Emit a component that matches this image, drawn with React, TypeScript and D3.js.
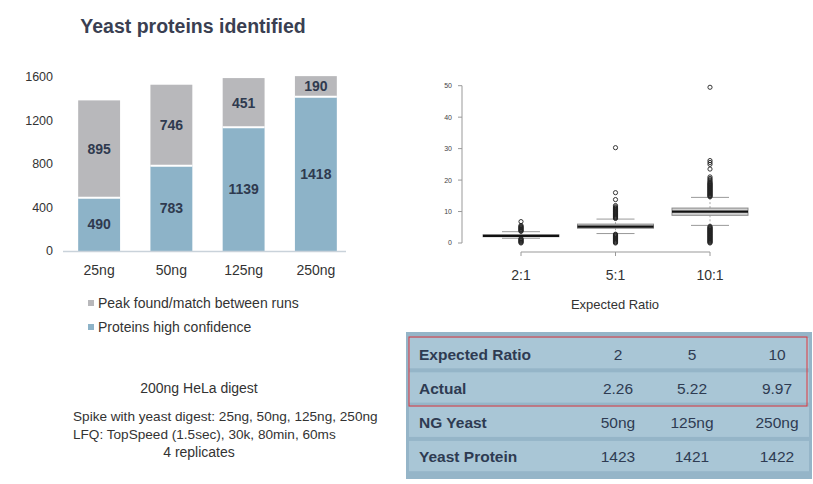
import React from "react";
import * as d3 from "d3";

// ── Bar chart data ─────────────────────────────────────────────
const amounts = ["25ng", "50ng", "125ng", "250ng"];
const highConfidence = [490, 783, 1139, 1418];
const matchBetweenRuns = [895, 746, 451, 190];
const barTicks = [0, 400, 800, 1200, 1600];

// ── Box plot data ──────────────────────────────────────────────
const ratios = ["2:1", "5:1", "10:1"];
const boxQ1 = [2.0, 4.7, 8.8];
const boxMedian = [2.26, 5.22, 9.97];
const boxQ3 = [2.6, 6.0, 11.1];
const whiskerLo = [1.5, 3.0, 5.6];
const whiskerHi = [3.6, 7.6, 14.5];
const outliers2 = [
  0.0, 0.2, 0.4, 0.6, 0.8, 1.0, 1.2, 1.4, 3.7, 3.9, 4.1, 4.3, 4.5, 4.7,
  4.9, 5.1, 5.3, 5.6, 6.8,
];
const outliers5 = [
  0.0, 0.2, 0.4, 0.6, 0.8, 1.0, 1.2, 1.4, 1.6, 1.8, 2.0, 2.2, 2.4, 2.6,
  2.8, 7.8, 8.0, 8.2, 8.4, 8.6, 8.8, 9.0, 9.2, 9.4, 9.6, 9.8, 10.0, 10.2,
  10.4, 10.6, 10.8, 11.0, 11.2, 11.5, 11.9, 13.8, 16.0, 30.3,
];
const outliers10 = [
  0.0, 0.2, 0.4, 0.6, 0.8, 1.0, 1.2, 1.4, 1.6, 1.8, 2.0, 2.2, 2.4, 2.6,
  2.8, 3.0, 3.2, 3.4, 3.6, 3.8, 4.0, 4.2, 4.4, 4.6, 4.8, 5.0, 5.3, 14.7,
  14.9, 15.1, 15.3, 15.5, 15.7, 15.9, 16.1, 16.3, 16.5, 16.7, 16.9, 17.1,
  17.3, 17.5, 17.7, 17.9, 18.1, 18.3, 18.5, 18.7, 18.9, 19.1, 19.4, 19.7,
  20.1, 20.5, 21.0, 23.5, 25.0, 25.6, 26.2, 49.5,
];
const boxOutliers = [outliers2, outliers5, outliers10];
const boxTicks = [0, 10, 20, 30, 40, 50];

// ── Table data ────────────────────────────────────────────────
const rowLabels = ["Expected Ratio", "Actual", "NG Yeast", "Yeast Protein"];
const expectedRow = ["2", "5", "10"];
const actualRow = ["2.26", "5.22", "9.97"];
const ngYeastRow = ["50ng", "125ng", "250ng"];
const yeastProteinRow = ["1423", "1421", "1422"];
const tableRows = [expectedRow, actualRow, ngYeastRow, yeastProteinRow];

// ── Text ──────────────────────────────────────────────────────
const legendLabels = ["Peak found/match between runs", "Proteins high confidence"];
const notes = [
  "200ng HeLa digest",
  "Spike with yeast digest: 25ng, 50ng, 125ng, 250ng",
  "LFQ: TopSpeed (1.5sec), 30k, 80min, 60ms",
  "4 replicates",
];

const FONT = "Liberation Sans, Arial, sans-serif";
const BLUE = "#8db3c8";
const GRAY = "#b8b8bb";
const LABEL = "#2f3a4f";

function BarChart() {
  const x = d3.scaleBand<string>().domain(amounts).range([63, 352]).paddingInner(0.42).paddingOuter(0.21);
  const y = d3.scaleLinear().domain([0, 1600]).range([251, 77]);
  const bw = x.bandwidth();
  return (
    <g fontFamily={FONT}>
      {barTicks.map((t) => (
        <text key={t} x={53} y={y(t)} dy="0.35em" textAnchor="end" fontSize={12.5} fill="#333">
          {t}
        </text>
      ))}
      {amounts.map((a, i) => {
        const lo = highConfidence[i];
        const hi = matchBetweenRuns[i];
        const x0 = x(a)!;
        return (
          <g key={a}>
            <rect x={x0} y={y(lo)} width={bw} height={y(0) - y(lo)} fill={BLUE} />
            <rect x={x0} y={y(lo + hi)} width={bw} height={y(0) - y(hi)} fill={GRAY} />
            <line x1={x0} x2={x0 + bw} y1={y(lo)} y2={y(lo)} stroke="#fff" strokeWidth={2} />
            <text x={x0 + bw / 2} y={(y(0) + y(lo)) / 2} dy="0.35em" textAnchor="middle" fontSize={14} fontWeight="bold" fill={LABEL}>
              {lo}
            </text>
            <text x={x0 + bw / 2} y={(y(lo) + y(lo + hi)) / 2} dy="0.35em" textAnchor="middle" fontSize={14} fontWeight="bold" fill={LABEL}>
              {hi}
            </text>
            <text x={x0 + bw / 2} y={270} dy="0.35em" textAnchor="middle" fontSize={14} fill="#333">
              {a}
            </text>
          </g>
        );
      })}
      <line x1={63} x2={346} y1={y(0) + 0.5} y2={y(0) + 0.5} stroke="#c9d2da" strokeWidth={1.5} />
      {/* legend */}
      {legendLabels.map((l, i) => (
        <g key={l}>
          <rect x={88} y={300 + i * 24} width={6} height={6} fill={i === 0 ? GRAY : BLUE} />
          <text x={98} y={303 + i * 24} dy="0.35em" fontSize={14} fill="#333">
            {l}
          </text>
        </g>
      ))}
      {notes.map((n, i) => {
        const centred = i === 0 || i === 3;
        return (
          <text
            key={n}
            x={centred ? 199 : 73}
            y={388 + i * 18 + (i > 0 ? 10 : 0)}
            dy="0.35em"
            textAnchor={centred ? "middle" : "start"}
            fontSize={centred ? 14 : 13.6}
            fill="#333"
          >
            {n}
          </text>
        );
      })}
    </g>
  );
}

function BoxPlot() {
  const x = d3.scalePoint<string>().domain(ratios).range([521, 710]);
  const y = d3.scaleLinear().domain([0, 50]).range([243, 85.7]);
  const half = 38;
  return (
    <g fontFamily={FONT}>
      <line x1={462} x2={462} y1={y(0)} y2={y(50)} stroke="#999" strokeWidth={1} />
      {boxTicks.map((t) => (
        <g key={t}>
          <line x1={458} x2={462} y1={y(t)} y2={y(t)} stroke="#999" />
          <text x={452} y={y(t)} dy="0.35em" textAnchor="end" fontSize={7} fill="#444">
            {t}
          </text>
        </g>
      ))}
      <line x1={521} x2={710} y1={252} y2={252} stroke="#999" />
      {ratios.map((r) => (
        <g key={r}>
          <line x1={x(r)} x2={x(r)} y1={252} y2={256} stroke="#999" />
          <text x={x(r)} y={275} dy="0.35em" textAnchor="middle" fontSize={14} fill="#333">
            {r}
          </text>
        </g>
      ))}
      <text x={615} y={304} dy="0.35em" textAnchor="middle" fontSize={13} fill="#333">
        Expected Ratio
      </text>
      {ratios.map((r, i) => {
        const cx = x(r)!;
        return (
          <g key={r}>
            <line x1={cx} x2={cx} y1={y(boxQ3[i])} y2={y(whiskerHi[i])} stroke="#aaa" strokeDasharray="2,2" />
            <line x1={cx} x2={cx} y1={y(boxQ1[i])} y2={y(whiskerLo[i])} stroke="#aaa" strokeDasharray="2,2" />
            <line x1={cx - half / 2} x2={cx + half / 2} y1={y(whiskerHi[i])} y2={y(whiskerHi[i])} stroke="#999" />
            <line x1={cx - half / 2} x2={cx + half / 2} y1={y(whiskerLo[i])} y2={y(whiskerLo[i])} stroke="#999" />
            <rect
              x={cx - half}
              y={y(boxQ3[i])}
              width={half * 2}
              height={y(boxQ1[i]) - y(boxQ3[i])}
              fill="#d2d2d2"
              stroke="#8a8a8a"
              strokeWidth={1}
            />
            {boxOutliers[i].map((v, j) => (
              <circle key={j} cx={cx} cy={y(v)} r={2.1} fill="none" stroke="#222" strokeWidth={0.9} />
            ))}
            <line x1={cx - half} x2={cx + half} y1={y(boxMedian[i])} y2={y(boxMedian[i])} stroke="#111" strokeWidth={2.2} />
          </g>
        );
      })}
    </g>
  );
}

function Table() {
  const colX = [618, 692, 777];
  const y0 = 338;
  const step = 34.3;
  return (
    <g fontFamily={FONT} fontSize={15.5} fill="#2e3b52">
      <rect x={406} y={332} width={406} height={147} fill="#95b5c8" />
      {rowLabels.map((l, i) => (
        <g key={l}>
          <rect x={409} y={y0 + i * step} width={400} height={step - 4} fill="#a9c6d6" />
          <text x={419} y={y0 + i * step + (step - 4) / 2 + 1} dy="0.35em" fontWeight="bold">
            {l}
          </text>
          {tableRows[i].map((v, j) => (
            <text key={j} x={colX[j]} y={y0 + i * step + (step - 4) / 2 + 1} dy="0.35em" textAnchor="middle">
              {v}
            </text>
          ))}
        </g>
      ))}
      <rect x={409} y={337} width={398} height={69} fill="none" stroke="#e0393e" strokeWidth={1} />
    </g>
  );
}

export default function App() {
  return (
    <svg
      width={813}
      height={484}
      viewBox="0 0 813 484"
      style={{ position: "absolute", left: 0, top: 0, background: "#fff", display: "block" }}
    >
      <text x={193} y={26} dy="0.35em" textAnchor="middle" fontFamily={FONT} fontSize={19.5} fontWeight="bold" fill="#3a3f52">
        Yeast proteins identified
      </text>
      <BarChart />
      <BoxPlot />
      <Table />
    </svg>
  );
}
